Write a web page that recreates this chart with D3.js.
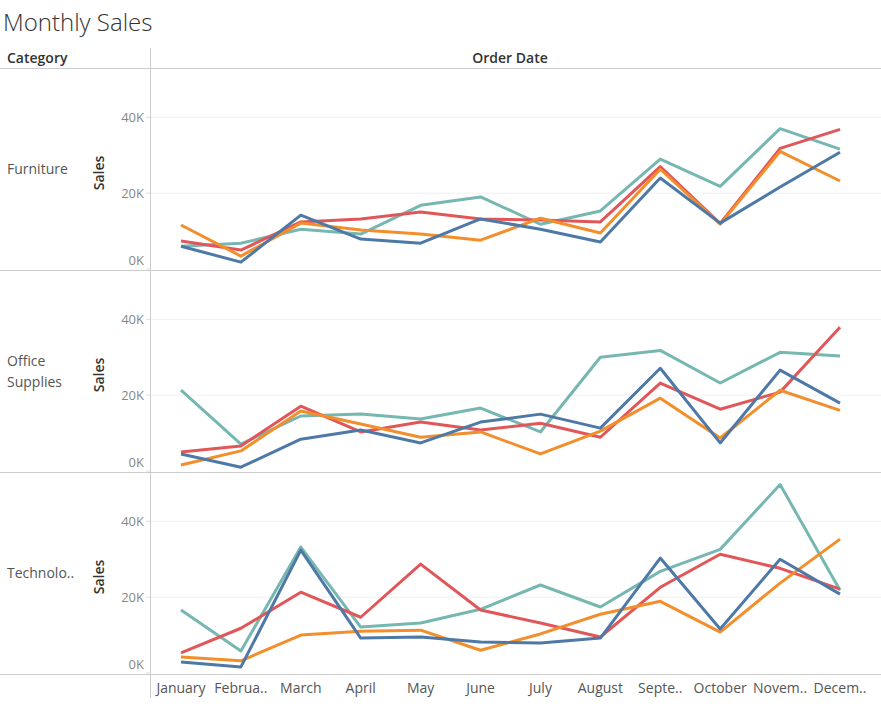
<!DOCTYPE html>
<html><head><meta charset="utf-8">
<script src="https://cdn.jsdelivr.net/npm/d3@7"></script>
<style>body{margin:0;background:#fff;font-family:"Open Sans",sans-serif}</style>
</head><body><svg id="c" width="881" height="706"></svg>
<script>
const months=["January","Februa..","March","April","May","June","July","August","Septe..","October","Novem..","Decem.."];
const categories=[["Furniture"],["Office","Supplies"],["Technolo.."]];
const yTicks=[0,20000,40000];
const colors=["#76b7b2","#e15759","#f28e2b","#4e79a7"];
const furniture=[
[6,6.8,10.5,9.2,16.8,19,11.8,15.3,29,21.8,37,31.6],
[7.4,5,12.4,13.2,15,13.2,12.9,12.4,27,12,31.8,36.8],
[11.6,3.4,12.1,10.3,9.2,7.6,13.4,9.5,26.3,11.8,31,23.2],
[6,1.8,14.2,7.9,6.8,13.2,10.5,7.1,24,12.1,21.6,30.8]];
const office=[
[21.3,7.1,14.5,15,13.7,16.6,10.3,30,31.8,23.2,31.3,30.3],
[5,6.6,17.1,10.3,12.9,10.8,12.6,8.9,23.2,16.3,20.8,37.9],
[1.6,5.3,15.8,12.4,8.9,10.3,4.5,10.5,19.2,8.7,21.3,16],
[4.5,1,8.4,10.8,7.4,12.9,15,11.3,27.1,7.4,26.6,17.9]];
const technology=[
[16.6,5.8,33.2,12.1,13.2,16.8,23.2,17.4,26.8,32.6,49.7,21.8],
[5.3,11.8,21.3,14.7,28.7,16.6,13.2,9.5,22.6,31.3,27.6,22.1],
[4.2,3.2,10,11,11.3,6,10.3,15.5,18.9,10.8,23.7,35.3],
[2.9,1.6,32.4,9.2,9.5,8.2,7.9,9.2,30.3,11.6,30,20.8]];
const panels=[furniture,office,technology];

const svg=d3.select("#c");
svg.append("text").attr("x",3).attr("y",31).attr("font-size",24).attr("font-weight",300).attr("fill","#333").text("Monthly Sales");
svg.append("text").attr("x",7).attr("y",63).attr("font-size",14).attr("font-weight",600).attr("fill","#333").text("Category");
svg.append("text").attr("x",510).attr("y",63).attr("font-size",14).attr("font-weight",600).attr("fill","#333").attr("text-anchor","middle").text("Order Date");
svg.append("line").attr("x1",0).attr("x2",881).attr("y1",68.5).attr("y2",68.5).attr("stroke","#ccc");
svg.append("line").attr("x1",150.5).attr("x2",150.5).attr("y1",48).attr("y2",698).attr("stroke","#ccc");

const x=d3.scalePoint().domain(months).range([181,840]);
const pTop=[68,270,472];
panels.forEach((data,i)=>{
  const t=pTop[i], b=t+202;
  const y=d3.scaleLinear().domain([0,53000]).range([b-1,t]);
  yTicks.forEach(v=>{
    if(v>0) svg.append("line").attr("x1",151).attr("x2",881).attr("y1",y(v)).attr("y2",y(v)).attr("stroke","#f0f0f0");
    svg.append("line").attr("x1",146).attr("x2",150).attr("y1",y(v)).attr("y2",y(v)).attr("stroke","#ddd");
    svg.append("text").attr("x",144).attr("y",v===0?y(v)-4:y(v)+5).attr("text-anchor","end").attr("font-size",13).attr("fill","#888").text(d3.format("~s")(v).replace("k","K")+(v===0?"K":""));
  });
  svg.append("line").attr("x1",0).attr("x2",881).attr("y1",b+0.5).attr("y2",b+0.5).attr("stroke","#ccc");
  const lab=categories[i];
  lab.forEach((s,j)=>svg.append("text").attr("x",7).attr("y",(t+b)/2+5+(j-(lab.length-1)/2)*21).attr("font-size",14).attr("fill","#555").text(s));
  svg.append("text").attr("transform",`translate(104,${(t+b)/2+4}) rotate(-90)`).attr("text-anchor","middle").attr("font-size",14).attr("font-weight",600).attr("fill","#333").text("Sales");
  const line=d3.line().x((d,k)=>x(months[k])).y(d=>y(d*1000));
  data.forEach((s,k)=>svg.append("path").datum(s).attr("d",line).attr("fill","none").attr("stroke",colors[k]).attr("stroke-width",3).attr("stroke-linejoin","round"));
});
months.forEach(m=>svg.append("text").attr("x",x(m)).attr("y",693).attr("text-anchor","middle").attr("font-size",14).attr("fill","#555").text(m));
</script></body></html>
